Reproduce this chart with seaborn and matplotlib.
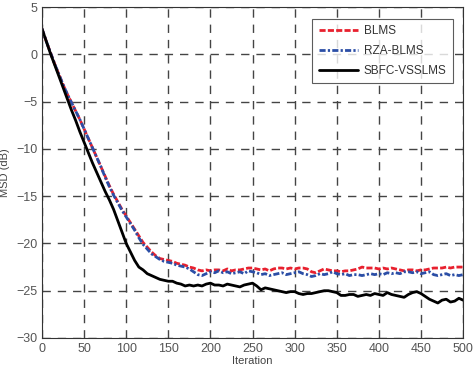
import numpy as np
import pandas as pd
import matplotlib
matplotlib.use("Agg")
import matplotlib.pyplot as plt
import seaborn as sns

# iteration axis (every 5 iterations)
iteration = list(range(0, 501, 5))

# MSD (dB)
blms = [
    2.7, 1.4, 0.2, -1.0, -2.1, -3.2, -4.2, -5.1, -6.0, -6.9,
    -7.9, -8.9, -9.9, -10.9, -11.9, -12.9, -13.9, -14.8, -15.6, -16.4,
    -17.1, -17.8, -18.5, -19.2, -19.9, -20.4, -20.9, -21.3, -21.6, -21.7,
    -21.8, -21.9, -22.1, -22.2, -22.3, -22.5, -22.6, -22.8, -22.9, -22.8,
    -22.9, -22.8, -22.8, -22.9, -22.7, -22.9, -22.8, -22.8, -22.7, -22.6,
    -22.6, -22.7, -22.8, -22.7, -22.9, -22.7, -22.6, -22.6, -22.7, -22.6,
    -22.7, -22.6, -22.6, -22.7, -23.0, -23.1, -22.9, -22.7, -22.8, -22.9,
    -22.9, -23.0, -22.9, -22.9, -22.8, -22.7, -22.5, -22.6, -22.6, -22.6,
    -22.7, -22.6, -22.7, -22.6, -22.7, -22.8, -22.9, -22.8, -22.8, -22.9,
    -22.8, -22.8, -22.7, -22.6, -22.6, -22.6, -22.5, -22.6, -22.5, -22.5,
    -22.5,
]
rza_blms = [
    2.7, 1.4, 0.2, -1.0, -2.1, -3.2, -4.2, -5.1, -6.0, -6.9,
    -7.9, -8.9, -9.9, -10.9, -11.9, -13.0, -14.0, -14.9, -15.7, -16.5,
    -17.2, -17.9, -18.6, -19.4, -20.1, -20.6, -21.1, -21.4, -21.7, -21.9,
    -22.0, -22.1, -22.3, -22.4, -22.5, -22.7, -23.0, -23.3, -23.4, -23.2,
    -23.0, -23.1, -22.9, -23.1, -23.0, -23.2, -23.1, -23.0, -23.2, -22.9,
    -23.0, -23.1, -23.3, -23.2, -23.4, -23.3, -23.2, -23.1, -23.3, -23.2,
    -23.1, -23.0, -23.2, -23.3, -23.5, -23.4, -23.2, -23.3, -23.2, -23.0,
    -23.2, -23.3, -23.2, -23.4, -23.3, -23.3, -23.4, -23.3, -23.2, -23.3,
    -23.2, -23.3, -23.1, -23.2, -23.1, -23.2, -23.0, -23.0, -23.1, -23.0,
    -23.2, -23.1, -23.0, -23.3, -23.4, -23.3, -23.2, -23.4, -23.3, -23.4,
    -23.3,
]
sbfc_vsslms = [
    2.7, 1.4, 0.1, -1.1, -2.3, -3.5, -4.7, -5.9, -7.0, -8.2,
    -9.3, -10.4, -11.5, -12.5, -13.5, -14.5, -15.4, -16.4, -17.6, -18.8,
    -20.0, -20.9, -21.8, -22.5, -22.8, -23.2, -23.4, -23.6, -23.8, -23.9,
    -24.0, -24.0, -24.2, -24.3, -24.5, -24.4, -24.5, -24.4, -24.5, -24.3,
    -24.2, -24.4, -24.4, -24.5, -24.3, -24.4, -24.5, -24.6, -24.4, -24.3,
    -24.2, -24.5, -24.9, -24.7, -24.8, -24.9, -25.0, -25.1, -25.2, -25.1,
    -25.1, -25.3, -25.4, -25.3, -25.3, -25.2, -25.1, -25.0, -25.0, -25.1,
    -25.2, -25.5, -25.5, -25.4, -25.4, -25.6, -25.5, -25.4, -25.5, -25.3,
    -25.4, -25.5, -25.2, -25.4, -25.5, -25.6, -25.7, -25.4, -25.2, -25.1,
    -25.3, -25.6, -25.9, -26.1, -26.3, -26.0, -25.9, -26.2, -26.1, -25.8,
    -26.0,
]

labels = ["BLMS", "RZA-BLMS", "SBFC-VSSLMS"]
colors = ["#e8202e", "#2b4ea6", "#000000"]
styles = [(0, (2.2, 0.8)), (0, (2.2, 0.8, 0.8, 0.8)), "-"]

df = pd.DataFrame({
    "Iteration": iteration * 3,
    "MSD": blms + rza_blms + sbfc_vsslms,
    "Algo": [labels[0]] * len(iteration) + [labels[1]] * len(iteration) + [labels[2]] * len(iteration),
})

sns.set_style("white")
plt.rcParams["font.family"] = ["Liberation Sans", "DejaVu Sans"]

fig = plt.figure(figsize=(4.74, 3.71), dpi=100)
ax = fig.add_axes([0.0886, 0.089, 0.8884, 0.892])

for lab, col, ls in zip(labels, colors, styles):
    sub = df[df["Algo"] == lab]
    sns.lineplot(data=sub, x="Iteration", y="MSD", color=col, linestyle=ls,
                 linewidth=2.0, ax=ax, label=lab)

ax.set_xlim(0, 500)
ax.set_ylim(-30, 5)
ax.set_xticks(range(0, 501, 50))
ax.set_yticks(range(-30, 6, 5))
ax.grid(True, color="#444444", linestyle=(0, (6, 5)), linewidth=1.0)
ax.tick_params(direction="in", length=3, labelsize=9, labelcolor="#555555", colors="#333333")
for s in ax.spines.values():
    s.set_color("#333333")
    s.set_linewidth(0.8)

ax.set_xlabel("Iteration", fontsize=8, color="#444444", labelpad=1)
ax.set_ylabel("MSD (dB)", fontsize=8, color="#444444", labelpad=0)
ax.yaxis.set_label_coords(-0.075, 0.5)

leg = ax.legend(loc="upper right", fontsize=8.5, frameon=True, fancybox=False,
                edgecolor="#333333", handlelength=3.3, handletextpad=0.5,
                borderpad=0.55, labelspacing=0.65, bbox_to_anchor=(0.99, 0.982))
leg.get_frame().set_linewidth(0.8)
for t in leg.get_texts():
    t.set_color("#333333")

fig.savefig("out.png", dpi=100)
